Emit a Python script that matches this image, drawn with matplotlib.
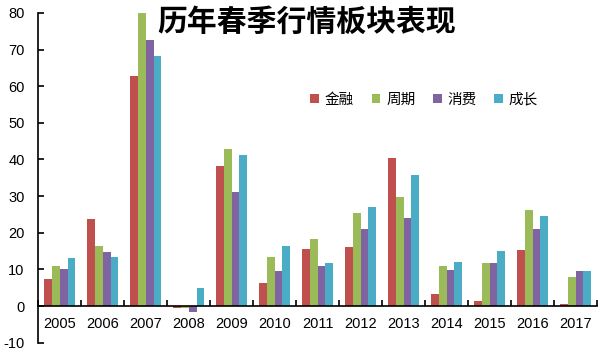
import numpy as np
import matplotlib.pyplot as plt

plt.rcParams["font.family"] = ["Liberation Sans", "Noto Sans CJK SC", "DejaVu Sans"]
plt.rcParams["axes.unicode_minus"] = False

years = ["2005", "2006", "2007", "2008", "2009", "2010", "2011",
         "2012", "2013", "2014", "2015", "2016", "2017"]
series = ["金融", "周期", "消费", "成长"]
finance = [7.5, 23.7, 62.7, -0.5, 38.3, 6.4, 15.7, 16.0, 40.5, 3.3, 1.5, 15.3, 0.5]
cycle = [11.0, 16.3, 80.0, -0.5, 42.8, 13.3, 18.2, 25.4, 29.8, 10.8, 11.8, 26.2, 7.8]
consume = [10.0, 14.8, 72.6, -1.6, 31.0, 9.7, 10.9, 20.9, 24.0, 9.8, 11.8, 21.1, 9.5]
growth = [13.0, 13.5, 68.3, 5.0, 41.3, 16.3, 11.8, 27.1, 35.7, 11.9, 15.0, 24.6, 9.5]
colors = ["#C0504D", "#9BBB59", "#8064A2", "#4BACC6"]

fig = plt.figure(figsize=(6.0, 3.57), dpi=100)
ax = fig.add_axes([0.064, 0.04, 0.931, 0.924])

x = np.arange(len(years))
w = 0.18
for i, (name, vals) in enumerate(zip(series, [finance, cycle, consume, growth])):
    ax.bar(x + (i - 1.5) * w, vals, width=w, color=colors[i], label=name)

ax.set_xlim(-0.5, len(years) - 0.5)
ax.set_ylim(-10, 80)
ax.set_yticks(np.arange(-10, 81, 10))

ax.spines["top"].set_visible(False)
ax.spines["right"].set_visible(False)
ax.spines["bottom"].set_position(("data", 0))
ax.spines["left"].set_linewidth(1.2)
ax.spines["bottom"].set_linewidth(1.2)

ax.set_xticks(x)
ax.set_xticklabels(years)
ax.set_xticks(np.arange(-0.5, len(years), 1), minor=True)
ax.tick_params(axis="x", which="major", length=0, pad=8, labelsize=10.5)
ax.tick_params(axis="x", which="minor", direction="in", length=4, width=1.2)
ax.tick_params(axis="y", direction="in", length=4, width=1.2, pad=10, labelsize=10.5)

fig.legend(loc="center", bbox_to_anchor=(0.707, 0.72), ncol=4, frameon=False,
           handlelength=0.6, handleheight=0.6, handletextpad=0.4,
           columnspacing=1.2, prop={"family": "Noto Sans CJK SC", "size": 10.5})

fig.text(0.512, 0.938, "历年春季行情板块表现", ha="center", va="center",
         fontsize=21.5, fontweight="bold", family="Noto Sans CJK SC")

fig.savefig("out.png", dpi=100)
